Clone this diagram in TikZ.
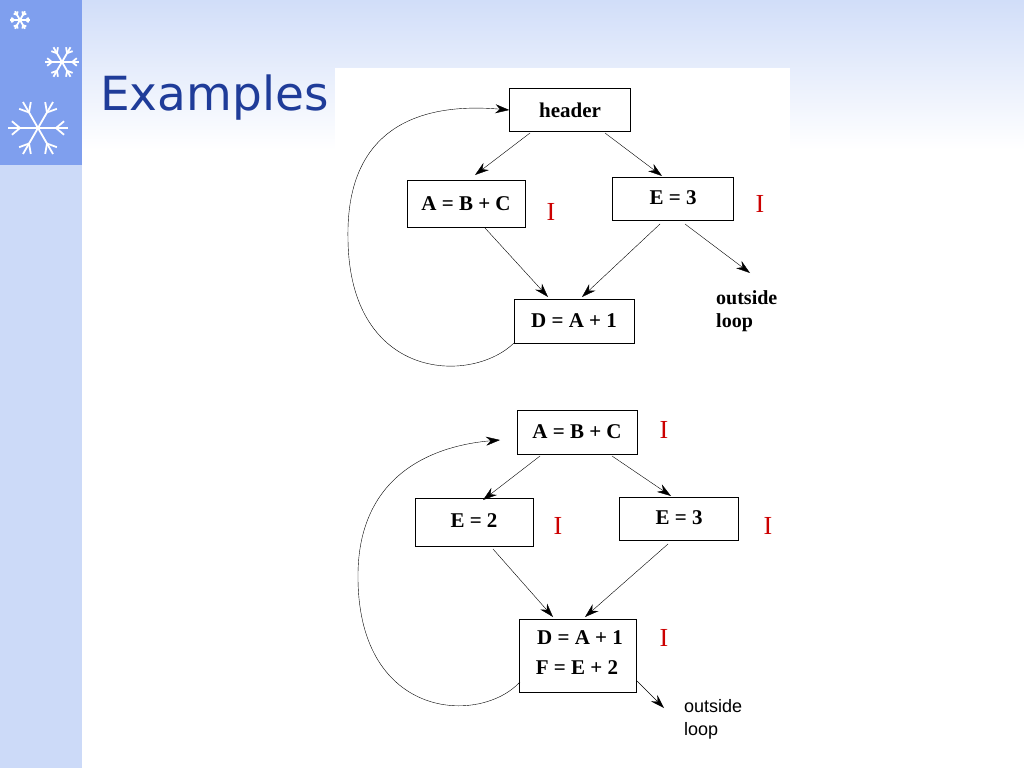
\documentclass[tikz,border=0pt]{standalone}
\usepackage{fontspec}
\setmainfont{Liberation Serif}
\newfontfamily\tfont{DejaVu Sans}
\newfontfamily\sfont{Liberation Sans}
\usetikzlibrary{arrows.meta,calc}
\definecolor{side}{HTML}{CCDAF8}
\definecolor{sq}{HTML}{7F9FEE}
\definecolor{ttl}{HTML}{1F3C99}
\definecolor{ired}{HTML}{CC0000}
\tikzset{
 bx/.style={draw,thin,minimum width=#1,inner sep=0pt,font=\bfseries\fontsize{21}{24}\selectfont},
 ar/.style={-{Stealth[length=14pt,width=9pt]},thin},
 ii/.style={text=ired,font=\fontsize{26}{26}\selectfont},
 lab/.style={align=left,anchor=north west,inner sep=0pt}
}
\newcommand{\flake}[3]{\begin{scope}[shift={(#1,#2)},white,line width=1.8pt]
\foreach \a in {0,60,...,300}{\draw (0,0)--(\a:#3);
\draw ($(0,0)+(\a:0.6*#3)$)--+(\a+40:0.35*#3); \draw ($(0,0)+(\a:0.6*#3)$)--+(\a-40:0.35*#3);}
\end{scope}}
\begin{document}
\begin{tikzpicture}[x=1pt,y=-1pt]
\useasboundingbox (0,0) rectangle (1024,768);
\shade[top color=side!90!white,bottom color=white] (0,0) rectangle (1024,150);
\fill[white] (0,150) rectangle (1024,768);
\fill[side] (0,0) rectangle (82,768);
\fill[sq] (0,0) rectangle (82,165);
\flake{20}{20}{10}
\flake{62}{62}{17}
\flake{38}{128}{30}
\node[text=ttl,font=\tfont\fontsize{47}{47}\selectfont,anchor=west,inner sep=0pt] (title) at (100,98) {Examples};
\fill[white] (335,68) rectangle (790,395);
% top
\node[bx=121pt,minimum height=43pt] (h) at (570,110) {header};
\node[bx=118pt,minimum height=47pt] (a) at (466,204) {A = B + C};
\node[bx=121pt,minimum height=43pt] (e) at (673,199) {\raisebox{3pt}{E = 3}};
\node[bx=120pt,minimum height=44pt] (d) at (574,321) {D = A + 1};
\node[ii] (i1) at (551,212) {I};
\node[ii] (i2) at (760,204) {I};
\node[lab,font=\bfseries\fontsize{20}{23}\selectfont] (o1) at (716,290) {outside\\loop};
\coordinate (o1t) at (750,273);
\draw[ar] (530,133)--(475,175);
\draw[ar] (605,133)--(662,176);
\draw[ar] (485,228)--(548,297);
\draw[ar] (660,224)--(582,297);
\draw[ar] (685,224)--(o1t);
\draw[ar] (d.south west) .. controls (470,385) and (350,380) .. (348,240) .. controls (345,120) and (430,103) .. (h.west);
% bottom
\node[bx=120pt,minimum height=44pt] (a2) at (577,432) {A = B + C};
\node[bx=118pt,minimum height=48pt] (e2) at (474,522) {\raisebox{3pt}{E = 2}};
\node[bx=119pt,minimum height=43pt] (e3) at (679,519) {\raisebox{3pt}{E = 3}};
\node[draw,thin,minimum width=117pt,minimum height=73pt] (d2) at (578,656) {};
\node[font=\bfseries\fontsize{21}{24}\selectfont] (d2a) at (580,638) {D = A + 1};
\node[font=\bfseries\fontsize{21}{24}\selectfont] (d2b) at (577,668) {F = E + 2};
\node[ii] (j1) at (664,430) {I};
\node[ii] (j2) at (558,526) {I};
\node[ii] (j3) at (768,526) {I};
\node[ii] (j4) at (664,638) {I};
\node[lab,font=\sfont\fontsize{18}{23}\selectfont] (o2) at (684,699) {outside\\loop};
\coordinate (o2t) at (664,708);
\draw[ar] (540,456)--(483,500);
\draw[ar] (612,456)--(671,496);
\draw[ar] (493,549)--(553,617);
\draw[ar] (668,544)--(585,617);
\draw[ar] (637,681)--(o2t);
\draw[ar] (520,682) .. controls (480,725) and (360,720) .. (358,580) .. controls (356,470) and (440,445) .. (500,440);
\end{tikzpicture}
\end{document}
